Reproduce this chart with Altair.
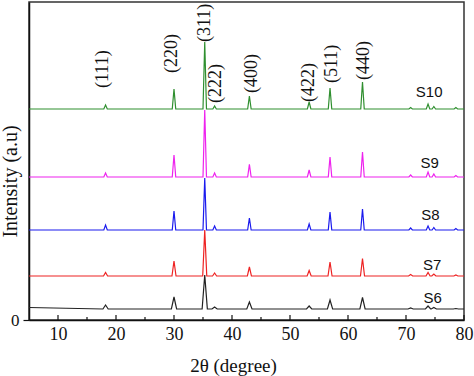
import altair as alt
import pandas as pd

# ---- data ----
series = ["S6", "S7", "S8", "S9", "S10"]
colors = ["#222222", "#ee2222", "#1a1aee", "#ee22ee", "#2f8f2f"]
baseline = [11, 44, 90, 143, 211]          # flat background level of each offset pattern
baseline_start = [12.5, 44, 90, 143, 211]  # level at 2θ = 5
peak_width = [0.45, 0.35, 0.3, 0.3, 0.3]   # half width of each peak (degrees)

peak_pos = [18.2, 30.0, 35.3, 37.0, 43.0, 53.3, 56.9, 62.5, 70.8, 73.8, 74.8, 78.6]
peak_height = {
    "S6":  [4, 12, 34, 2, 7, 3, 9, 11.5, 1, 3, 1.5, 0.5],
    "S7":  [3.5, 15, 46, 3, 9, 5.5, 14, 17.5, 1.5, 3.5, 2, 1],
    "S8":  [5, 19, 52, 4, 12, 6, 18, 21, 2, 4, 2.5, 1.5],
    "S9":  [4, 22, 67, 4, 12.7, 7, 20, 25, 2, 5, 3, 1.5],
    "S10": [4, 20, 67, 3, 13, 7, 21, 27, 1.5, 5, 2.5, 1.5],
}

series_label_x = [74.6, 74.5, 74.2, 74.1, 74.0]
series_label_y = [17, 50, 100, 152, 223]

hkl_labels = ["(111)", "(220)", "(311)", "(222)", "(400)", "(422)", "(511)", "(440)"]
hkl_x = [17.7, 29.6, 35.4, 37.3, 43.5, 53.2, 57.2, 62.8]
hkl_y = [232, 247, 278, 217, 227, 218, 237, 240]

x_major = [10, 20, 30, 40, 50, 60, 70, 80]
x_minor = [15, 25, 35, 45, 55, 65, 75]

SERIF = "Times New Roman, Liberation Serif, DejaVu Serif, serif"
SANS = "Arial, Liberation Sans, sans-serif"

# ---- build line table ----
rows = []
for s, b, b0, w in zip(series, baseline, baseline_start, peak_width):
    rows.append({"series": s, "x": 5.0, "y": b0})
    for p, h in zip(peak_pos, peak_height[s]):
        rows.append({"series": s, "x": p - w, "y": b})
        rows.append({"series": s, "x": p, "y": b + h})
        rows.append({"series": s, "x": p + w, "y": b})
    rows.append({"series": s, "x": 80.0, "y": b})
df = pd.DataFrame(rows)

lab_df = pd.DataFrame({"series": series, "x": series_label_x, "y": series_label_y})
hkl_df = pd.DataFrame({"t": hkl_labels, "x": hkl_x, "y": hkl_y})
maj_df = pd.DataFrame({"x": x_major})
min_df = pd.DataFrame({"x": x_minor})

xscale = alt.Scale(domain=[5, 80], nice=False, zero=False)
yscale = alt.Scale(domain=[0, 318], nice=False)
cscale = alt.Scale(domain=series, range=colors)

xaxis = alt.Axis(values=x_major, title="2θ (degree)", ticks=False, tickSize=0,
                 labelPadding=5, labelFont=SERIF, labelFontSize=18,
                 labelColor="#111", titleFont=SERIF, titleFontSize=19,
                 titleFontWeight="normal", titleColor="#111", titleX=204, titleY=45,
                 titleBaseline="middle", domainColor="#111", domainWidth=1.5,
                 grid=False, labelFlush=False)
yaxis = alt.Axis(values=[0], title="Intensity (a.u)", tickSize=6, tickColor="#111",
                 tickWidth=1.2, labelPadding=4, labelFont=SERIF,
                 labelFontSize=17, labelColor="#111", titleFont=SERIF,
                 titleFontSize=20, titleFontWeight="normal", titleColor="#111",
                 titleAngle=270, titleX=-19, titleY=179, titleAlign="center",
                 titleBaseline="middle", domainColor="#111", domainWidth=1.5, grid=False)

lines = alt.Chart(df).mark_line(strokeWidth=1.2, clip=True).encode(
    x=alt.X("x:Q", scale=xscale, axis=xaxis),
    y=alt.Y("y:Q", scale=yscale, axis=yaxis),
    color=alt.Color("series:N", scale=cscale, legend=None),
    detail="series:N",
)

series_text = alt.Chart(lab_df).mark_text(
    font=SANS, fontSize=15, align="center", baseline="alphabetic", color="#111"
).encode(x=alt.X("x:Q", scale=xscale), y=alt.Y("y:Q", scale=yscale), text="series:N")

hkl_text = alt.Chart(hkl_df).mark_text(
    font=SERIF, fontSize=18, angle=270, align="left", baseline="middle", color="#111"
).encode(x=alt.X("x:Q", scale=xscale), y=alt.Y("y:Q", scale=yscale), text="t:N")

maj_ticks = alt.Chart(maj_df).mark_rule(color="#111", strokeWidth=1.2).encode(
    x=alt.X("x:Q", scale=xscale), y=alt.value(318), y2=alt.value(313))
min_ticks = alt.Chart(min_df).mark_rule(color="#111", strokeWidth=1.2).encode(
    x=alt.X("x:Q", scale=xscale), y=alt.value(318), y2=alt.value(315))

chart = alt.layer(lines, maj_ticks, min_ticks, series_text, hkl_text).properties(
    width=435, height=318,
    padding={"left": 29, "top": 2, "right": 10, "bottom": 56},
    autosize=alt.AutoSizeParams(type="none"),
    background="white",
).configure_view(stroke="#333", strokeWidth=1.5)

chart.save("out.html", embed_options={"renderer": "svg", "actions": False})
